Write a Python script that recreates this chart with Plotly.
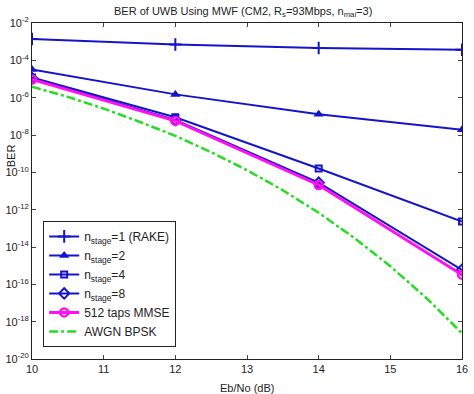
import plotly.graph_objects as go

ebno = [10, 12, 14, 16]
ber_rake = [1.4e-3, 7.0e-4, 4.6e-4, 3.7e-4]
ber_n2 = [3.2e-5, 1.5e-6, 1.3e-7, 1.9e-8]
ber_n4 = [1.2e-5, 9.0e-8, 1.6e-10, 2.3e-13]
ber_n8 = [1.1e-5, 6.5e-8, 2.8e-11, 6.0e-16]
ber_mmse = [9.5e-6, 5.7e-8, 2.1e-11, 3.3e-16]

ebno_awgn = [10, 10.5, 11, 11.5, 12, 12.5, 13, 13.5, 14, 14.5, 15, 15.5, 16]
ber_awgn = [3.9e-6, 1.1e-6, 2.6e-7, 5.1e-8, 9.0e-9, 1.2e-9, 1.3e-10,
            1.1e-11, 6.8e-13, 3.0e-14, 9.3e-16, 1.9e-17, 2.4e-19]

ytick_vals = [1e-2, 1e-4, 1e-6, 1e-8, 1e-10, 1e-12, 1e-14, 1e-16, 1e-18, 1e-20]
ytick_text = ["10<sup>-2</sup>", "10<sup>-4</sup>", "10<sup>-6</sup>", "10<sup>-8</sup>",
              "10<sup>-10</sup>", "10<sup>-12</sup>", "10<sup>-14</sup>", "10<sup>-16</sup>",
              "10<sup>-18</sup>", "10<sup>-20</sup>"]
xtick_vals = [10, 11, 12, 13, 14, 15, 16]

blue = "#1414C8"
fig = go.Figure()
fig.add_trace(go.Scatter(x=ebno, y=ber_rake, mode="lines+markers",
                         name="n<sub>stage</sub>=1 (RAKE)",
                         line=dict(color=blue, width=2),
                         marker=dict(symbol="cross-thin-open", size=9, line=dict(color=blue, width=2))))
fig.add_trace(go.Scatter(x=ebno, y=ber_n2, mode="lines+markers",
                         name="n<sub>stage</sub>=2",
                         line=dict(color=blue, width=2),
                         marker=dict(symbol="triangle-up", size=9, color=blue)))
fig.add_trace(go.Scatter(x=ebno, y=ber_n4, mode="lines+markers",
                         name="n<sub>stage</sub>=4",
                         line=dict(color=blue, width=2),
                         marker=dict(symbol="square-open", size=6, line=dict(color=blue, width=2))))
fig.add_trace(go.Scatter(x=ebno, y=ber_n8, mode="lines+markers",
                         name="n<sub>stage</sub>=8",
                         line=dict(color=blue, width=2),
                         marker=dict(symbol="diamond-open", size=8, line=dict(color=blue, width=2))))
fig.add_trace(go.Scatter(x=ebno, y=ber_mmse, mode="lines+markers",
                         name="512 taps MMSE",
                         line=dict(color="#FF10F0", width=3),
                         marker=dict(symbol="circle-open", size=8, line=dict(color="#FF10F0", width=2.5))))
fig.add_trace(go.Scatter(x=ebno_awgn, y=ber_awgn, mode="lines",
                         name="AWGN BPSK",
                         line=dict(color="#22DD22", width=2.5, dash="dashdot")))

fig.update_layout(
    width=474, height=394,
    margin=dict(l=32, r=12, t=23, b=35),
    paper_bgcolor="white", plot_bgcolor="white",
    font=dict(family="Liberation Sans, Arial, sans-serif", size=11, color="#222"),
    title=dict(text="BER of UWB Using MWF (CM2, R<sub>s</sub>=93Mbps, n<sub>mai</sub>=3)",
               x=0.513, xanchor="center", y=0.972, yanchor="middle",
               font=dict(size=11, color="#222")),
    showlegend=True,
    legend=dict(x=0.026, y=0.036, xanchor="left", yanchor="bottom",
                bgcolor="white", bordercolor="#222", borderwidth=1,
                font=dict(size=12, color="#222"), tracegroupgap=0,
                itemwidth=30),
    annotations=[
        dict(text="BER", xref="paper", yref="paper", x=-0.05, y=0.605,
             xanchor="center", yanchor="middle", textangle=-90, showarrow=False,
             font=dict(size=11, color="#222")),
        dict(text="Eb/No (dB)", xref="paper", yref="paper", x=0.5, y=-0.085,
             xanchor="center", yanchor="middle", showarrow=False,
             font=dict(size=11, color="#222")),
    ],
)
fig.update_xaxes(range=[10, 16], tickvals=xtick_vals, ticks="inside", ticklen=4,
                 showline=True, linecolor="#222", linewidth=1, mirror="ticks",
                 showgrid=False, zeroline=False, automargin=False)
fig.update_yaxes(type="log", range=[-20, -2], tickvals=ytick_vals, ticktext=ytick_text,
                 ticks="inside", ticklen=4,
                 showline=True, linecolor="#222", linewidth=1, mirror="ticks",
                 showgrid=False, zeroline=False, automargin=False)

fig.write_html("out.html", config={"displayModeBar": False},
               post_script="document.body.style.margin='0';")
